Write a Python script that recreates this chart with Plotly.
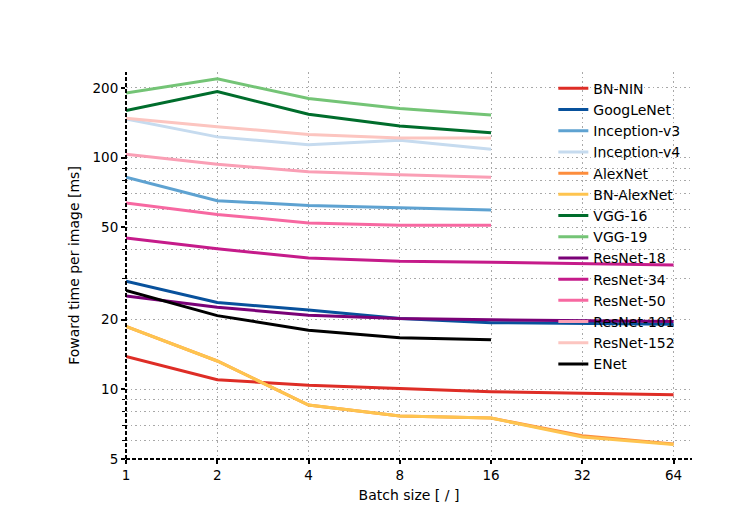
import plotly.graph_objects as go

# batch sizes on x, forward time per image [ms] on y
batch = [1, 2, 4, 8, 16, 32, 64]

names = ["BN-NIN", "GoogLeNet", "Inception-v3", "Inception-v4", "AlexNet", "BN-AlexNet",
         "VGG-16", "VGG-19", "ResNet-18", "ResNet-34", "ResNet-50", "ResNet-101",
         "ResNet-152", "ENet"]

bn_nin = [13.85, 11.0, 10.4, 10.05, 9.77, 9.61, 9.48]
googlenet = [29.3, 23.7, 22.0, 20.2, 19.4, 19.3, 19.1]
inception_v3 = [82.4, 65.2, 62.2, 61.0, 59.5]
inception_v4 = [147.0, 123.0, 113.7, 119.0, 108.7]
alexnet = [18.7, 13.25, 8.55, 7.66, 7.51, 6.3, 5.8]
bn_alexnet = [18.7, 13.25, 8.55, 7.66, 7.51, 6.22, 5.78]
vgg16 = [160.0, 193.0, 154.0, 137.0, 128.0]
vgg19 = [190.0, 219.0, 180.0, 163.0, 153.0]
resnet18 = [25.3, 22.6, 20.9, 20.2, 19.95, 19.8, 19.6]
resnet34 = [45.0, 40.4, 36.9, 35.7, 35.4, 34.8, 34.4]
resnet50 = [63.7, 56.9, 52.3, 51.1, 51.1]
resnet101 = [103.4, 93.7, 87.0, 84.3, 82.4]
resnet152 = [148.0, 136.0, 126.0, 121.5, 121.5]
enet = [26.7, 20.8, 18.0, 16.7, 16.35]

series = [bn_nin, googlenet, inception_v3, inception_v4, alexnet, bn_alexnet,
          vgg16, vgg19, resnet18, resnet34, resnet50, resnet101, resnet152, enet]

colors = ["#de2d26", "#08519c", "#5ea2d1", "#c6dbef", "#fd8d3c", "#fec44f",
          "#006d2c", "#74c476", "#7a0177", "#c51b8a", "#f768a1", "#fa9fb5",
          "#fcc5c0", "#000000"]

y_major = [5, 10, 20, 50, 100, 200]
y_minor = [6, 7, 8, 9, 30, 40, 60, 70, 80, 90]

fig = go.Figure()
for name, vals, col in zip(names, series, colors):
    fig.add_trace(go.Scatter(x=batch[:len(vals)], y=vals, name=name, mode="lines",
                             line=dict(color=col, width=3)))

# matplotlib-ish ':' grid
grid = dict(showgrid=True, gridcolor="#a8a8a8", griddash="1.5px,3px", gridwidth=1)
title_font = dict(family="DejaVu Sans", size=14, color="black")

fig.update_layout(
    width=739, height=520,
    margin=dict(l=118, r=55, t=64, b=69),
    paper_bgcolor="white", plot_bgcolor="white",
    font=dict(family="DejaVu Sans", size=13.5, color="black"),
    xaxis=dict(type="log", range=[0, 1.867], tickvals=batch, ticktext=[str(b) for b in batch],
               ticks="outside", ticklen=4, tickwidth=1.5, tickcolor="black",
               zeroline=False, showline=False,
               title=dict(text="Batch size [ / ]", standoff=7, font=title_font), **grid),
    yaxis=dict(type="log", range=[0.699, 2.370], tickvals=y_major,
               ticktext=[str(v) for v in y_major],
               ticks="outside", ticklen=4, tickwidth=1.5, tickcolor="black",
               zeroline=False, showline=False,
               minor=dict(tickmode="array", tickvals=y_minor, ticks="outside", ticklen=3,
                          tickcolor="black", tickwidth=1, **grid),
               title=dict(text="Foward time per image [ms]", standoff=9, font=title_font), **grid),
    legend=dict(x=0.755, y=0.998, xanchor="left", yanchor="top",
                bgcolor="rgba(0,0,0,0)", font=dict(size=14), tracegroupgap=0),
    showlegend=True,
)

# dashed black spines on the left and bottom
fig.add_shape(type="line", xref="paper", yref="paper", x0=0, x1=0, y0=0, y1=1,
              line=dict(color="black", width=2, dash="4px,2px"), layer="above")
fig.add_shape(type="line", xref="paper", yref="paper", x0=0, x1=1, y0=0, y1=0,
              line=dict(color="black", width=2, dash="4px,2px"), layer="above")

fig.write_html("out.html")
